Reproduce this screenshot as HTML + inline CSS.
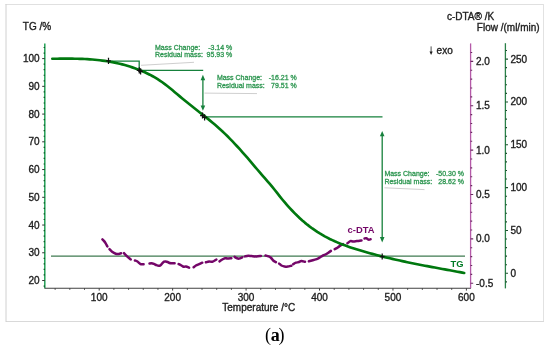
<!DOCTYPE html><html><head><meta charset="utf-8"><style>html,body{margin:0;padding:0;background:#fff;width:550px;height:348px;overflow:hidden}svg{display:block}text{font-family:"Liberation Sans",Arial,sans-serif}.t{stroke:#1e1e1e;stroke-width:0.35px}.ta{stroke:#2f9752;stroke-width:0.3px}</style></head><body>
<svg width="550" height="348" viewBox="0 0 550 348">
<path d="M5.5 4.5H543.5" stroke="#e0e0e0"/><path d="M543.5 4V321.5" stroke="#e2e2e2"/><path d="M6 321.5H544" stroke="#d9d9d9"/><path d="M6 4V322" stroke="#d0d0d0"/>
<line x1="44.8" y1="43.5" x2="44.8" y2="288.2" stroke="#22a055" stroke-width="1.5"/>
<path d="M42.2 58.6H44.8M42.2 86.34H44.8M42.2 114.08H44.8M42.2 141.82H44.8M42.2 169.56H44.8M42.2 197.3H44.8M42.2 225.04H44.8M42.2 252.78H44.8M42.2 280.52H44.8" stroke="#333" stroke-width="1" fill="none"/>
<path d="M43.6 47.5H45M43.6 53.05H45M43.6 64.15H45M43.6 69.7H45M43.6 75.24H45M43.6 80.79H45M43.6 91.89H45M43.6 97.44H45M43.6 102.98H45M43.6 108.53H45M43.6 119.63H45M43.6 125.18H45M43.6 130.72H45M43.6 136.27H45M43.6 147.37H45M43.6 152.92H45M43.6 158.46H45M43.6 164.01H45M43.6 175.11H45M43.6 180.66H45M43.6 186.2H45M43.6 191.75H45M43.6 202.85H45M43.6 208.4H45M43.6 213.94H45M43.6 219.49H45M43.6 230.59H45M43.6 236.14H45M43.6 241.68H45M43.6 247.23H45M43.6 258.33H45M43.6 263.88H45M43.6 269.42H45M43.6 274.97H45M43.6 286.07H45" stroke="#0d5a28" stroke-width="1.2" fill="none"/>
<g class="t" font-size="10" fill="#1e1e1e" text-anchor="end">
<text x="39.7" y="62.1">100</text>
<text x="39.7" y="89.84">90</text>
<text x="39.7" y="117.58">80</text>
<text x="39.7" y="145.32">70</text>
<text x="39.7" y="173.06">60</text>
<text x="39.7" y="200.8">50</text>
<text x="39.7" y="228.54">40</text>
<text x="39.7" y="256.28">30</text>
<text x="39.7" y="284.02">20</text>
</g>
<text x="22.8" y="30.2" class="t" font-size="10" fill="#1e1e1e">TG /%</text>
<line x1="44.5" y1="288.2" x2="471" y2="288.2" stroke="#404040" stroke-width="1.1"/>
<path d="M55.14 288.2V289.8M69.82 288.2V289.8M84.51 288.2V289.8M99.2 288.2V290.6M113.89 288.2V289.8M128.58 288.2V289.8M143.26 288.2V289.8M157.95 288.2V289.8M172.64 288.2V290.6M187.33 288.2V289.8M202.02 288.2V289.8M216.7 288.2V289.8M231.39 288.2V289.8M246.08 288.2V290.6M260.77 288.2V289.8M275.46 288.2V289.8M290.14 288.2V289.8M304.83 288.2V289.8M319.52 288.2V290.6M334.21 288.2V289.8M348.9 288.2V289.8M363.58 288.2V289.8M378.27 288.2V289.8M392.96 288.2V290.6M407.65 288.2V289.8M422.34 288.2V289.8M437.02 288.2V289.8M451.71 288.2V289.8M466.4 288.2V290.6" stroke="#404040" stroke-width="1" fill="none"/>
<g class="t" font-size="10" fill="#1e1e1e" text-anchor="middle">
<text x="99.2" y="300.8">100</text>
<text x="172.64" y="300.8">200</text>
<text x="246.08" y="300.8">300</text>
<text x="319.52" y="300.8">400</text>
<text x="392.96" y="300.8">500</text>
<text x="466.4" y="300.8">600</text>
</g>
<text x="222.3" y="310.6" class="t" font-size="10" fill="#1e1e1e">Temperature /°C</text>
<line x1="470.6" y1="43.4" x2="470.6" y2="288.2" stroke="#b45aa8" stroke-width="1.3"/>
<path d="M470.6 52.52H472.2M470.6 61.4H473.2M470.6 70.28H472.2M470.6 79.15H472.2M470.6 88.03H472.2M470.6 96.9H472.2M470.6 105.78H473.2M470.6 114.66H472.2M470.6 123.53H472.2M470.6 132.41H472.2M470.6 141.28H472.2M470.6 150.16H473.2M470.6 159.04H472.2M470.6 167.91H472.2M470.6 176.79H472.2M470.6 185.66H472.2M470.6 194.54H473.2M470.6 203.42H472.2M470.6 212.29H472.2M470.6 221.17H472.2M470.6 230.04H472.2M470.6 238.92H473.2M470.6 247.8H472.2M470.6 256.67H472.2M470.6 265.55H472.2M470.6 274.42H472.2M470.6 283.3H473.2" stroke="#6a2a62" stroke-width="1.1" fill="none"/>
<g class="t" font-size="10" fill="#1e1e1e">
<text x="476" y="64.9">2.0</text>
<text x="476" y="109.28">1.5</text>
<text x="476" y="153.66">1.0</text>
<text x="476" y="198.04">0.5</text>
<text x="476" y="242.42">0.0</text>
<text x="476" y="286.8">-0.5</text>
</g>
<line x1="505.4" y1="43.2" x2="505.4" y2="288.4" stroke="#2a8048" stroke-width="1.3"/>
<path d="M505.4 50.53H507M505.4 59.1H508M505.4 67.67H507M505.4 76.24H507M505.4 84.8H507M505.4 93.37H507M505.4 101.94H508M505.4 110.51H507M505.4 119.08H507M505.4 127.64H507M505.4 136.21H507M505.4 144.78H508M505.4 153.35H507M505.4 161.92H507M505.4 170.48H507M505.4 179.05H507M505.4 187.62H508M505.4 196.19H507M505.4 204.76H507M505.4 213.32H507M505.4 221.89H507M505.4 230.46H508M505.4 239.03H507M505.4 247.6H507M505.4 256.16H507M505.4 264.73H507M505.4 273.3H508M505.4 281.87H507" stroke="#1f5030" stroke-width="1.1" fill="none"/>
<g class="t" font-size="10" fill="#1e1e1e">
<text x="510.4" y="62.6">250</text>
<text x="510.4" y="105.44">200</text>
<text x="510.4" y="148.28">150</text>
<text x="510.4" y="191.12">100</text>
<text x="510.4" y="233.96">50</text>
<text x="510.4" y="276.8">0</text>
</g>
<text x="446.9" y="20.2" class="t" font-size="10" fill="#1e1e1e">c-DTA® /K</text>
<text x="476.8" y="30.9" class="t" font-size="10" fill="#1e1e1e">Flow /(ml/min)</text>
<text x="436.6" y="53.8" class="t" font-size="10" fill="#1e1e1e">exo</text>
<path d="M431.1 46.4V52.5" stroke="#1e1e1e" stroke-width="0.8"/><path d="M429.5 51.6L431.1 55L432.7 51.6Z" fill="#1e1e1e"/>
<line x1="51" y1="256.2" x2="465" y2="256.2" stroke="#3f7a50" stroke-width="1.3"/>
<path d="M108.2 61.1H139.2V70.3M139.2 70.3H203.2M206 116.9H382.5" stroke="#16813c" stroke-width="1.3" fill="none"/>
<path d="M141 65.3L194 62.3M204.5 93.1L257 93.6M384.5 187.8L424.5 189.6" stroke="#cfcfcf" stroke-width="1" fill="none"/>
<path d="M202.9 79.7V105.9" stroke="#16813c" stroke-width="1.3"/><path d="M202.9 74.8L200.6 80.2L205.2 80.2Z" fill="#16813c"/><path d="M202.9 110.8L200.6 105.4L205.2 105.4Z" fill="#16813c"/>
<path d="M382.2 135.8V237.6" stroke="#16813c" stroke-width="1.3"/><path d="M382.2 130.9L379.9 136.3L384.5 136.3Z" fill="#16813c"/><path d="M382.2 242.5L379.9 237.1L384.5 237.1Z" fill="#16813c"/>
<g stroke="#740668" stroke-width="2.5" fill="none" stroke-linecap="round" stroke-linejoin="round">
<path d="M102.4 239.4C102.65 239.65 103.4 240.32 103.9 240.9C104.4 241.48 104.82 241.97 105.4 242.9C105.98 243.83 107.07 245.9 107.4 246.5"/>
<path d="M109.5 249.1C109.93 249.53 111.07 250.93 112.1 251.7C113.13 252.47 114.58 253.32 115.7 253.7C116.82 254.08 117.9 254.08 118.8 254C119.7 253.92 120.72 253.33 121.1 253.2"/>
<path d="M124 253.2C124.52 253.72 125.98 255.27 127.1 256.3C128.22 257.33 130.1 258.88 130.7 259.4"/>
<path d="M134.9 260.5C135.32 260.67 136.47 260.9 137.4 261.5C138.33 262.1 139.47 263.63 140.5 264.1C141.53 264.57 143.08 264.27 143.6 264.3"/>
<path d="M149.5 263.6C149.82 263.55 150.67 263.25 151.4 263.3C152.13 263.35 153.05 263.58 153.9 263.9C154.75 264.22 155.7 264.88 156.5 265.2C157.3 265.52 158.02 265.8 158.7 265.8C159.38 265.8 160.02 265.62 160.6 265.2C161.18 264.78 161.62 263.88 162.2 263.3C162.78 262.72 163.52 262.02 164.1 261.7C164.68 261.38 165.12 261.35 165.7 261.4C166.28 261.45 166.97 261.73 167.6 262C168.23 262.27 168.8 262.8 169.5 263C170.2 263.2 170.95 263.17 171.8 263.2C172.65 263.23 174.13 263.2 174.6 263.2"/>
<path d="M178.6 264.1C179.07 264.33 180.57 265.05 181.4 265.5C182.23 265.95 182.85 266.65 183.6 266.8C184.35 266.95 184.98 266.25 185.9 266.4C186.82 266.55 188.57 267.48 189.1 267.7"/>
<path d="M193.6 267.3C193.98 267 194.98 266.03 195.9 265.5C196.82 264.97 198.03 264.57 199.1 264.1C200.17 263.63 201.77 262.93 202.3 262.7"/>
<path d="M205.9 262.3C206.43 262.15 208.03 261.48 209.1 261.4C210.17 261.32 211.08 262.12 212.3 261.8C213.52 261.48 215.72 259.88 216.4 259.5"/>
<path d="M219.5 261.4C219.97 261.08 221.38 260.03 222.3 259.5C223.22 258.97 224.17 258.37 225 258.2C225.83 258.03 226.23 258.5 227.3 258.5C228.37 258.5 230.72 258.25 231.4 258.2"/>
<path d="M234.5 256.8C234.88 257.03 236.03 257.9 236.8 258.2C237.57 258.5 238.18 258.75 239.1 258.6C240.02 258.45 241.77 257.52 242.3 257.3"/>
<path d="M245 256.4C245.53 256.28 247.07 255.75 248.2 255.7C249.33 255.65 250.43 255.98 251.8 256.1C253.17 256.22 254.88 256.43 256.4 256.4C257.92 256.37 260.15 255.98 260.9 255.9"/>
<path d="M265.5 255.5C266.02 255.65 267.7 256.03 268.6 256.4C269.5 256.77 270.13 257.02 270.9 257.7C271.67 258.38 272.37 259.77 273.2 260.5C274.03 261.23 275.45 261.83 275.9 262.1"/>
<path d="M279.1 263.6C279.48 263.92 280.5 265.03 281.4 265.5C282.3 265.97 283.45 266.22 284.5 266.4C285.55 266.58 286.55 266.72 287.7 266.6C288.85 266.48 290.78 265.85 291.4 265.7"/>
<path d="M293.2 264.1C293.65 263.87 295 263.03 295.9 262.7C296.8 262.37 297.68 262.4 298.6 262.1C299.52 261.8 300.33 260.95 301.4 260.9C302.47 260.85 304.4 261.65 305 261.8"/>
<path d="M308.9 261.3C309.68 261.08 312.1 260.43 313.6 260C315.1 259.57 316.75 259.2 317.9 258.7C319.05 258.2 319.63 257.57 320.5 257C321.37 256.43 322.23 255.73 323.1 255.3C323.97 254.87 324.83 254.83 325.7 254.4C326.57 253.97 327.43 253.28 328.3 252.7C329.17 252.12 330.47 251.2 330.9 250.9"/>
<path d="M334.7 249.2C335.22 248.92 336.72 248.22 337.8 247.5C338.88 246.78 340.35 245.47 341.2 244.9C342.05 244.33 342.62 244.23 342.9 244.1"/>
<path d="M347.4 243.3C347.88 242.93 349.33 241.4 350.3 241.1C351.27 240.8 352.12 241.5 353.2 241.5C354.28 241.5 355.42 241.28 356.8 241.1C358.18 240.92 360.72 240.52 361.5 240.4"/>
<path d="M364.5 238.5C364.8 238.45 365.63 238.02 366.3 238.2C366.97 238.38 367.78 239.42 368.5 239.6C369.22 239.78 370.25 239.35 370.6 239.3"/>
</g>
<path d="M52.3 58.78 54.8 58.74 57.3 58.70 59.8 58.67 62.3 58.64 64.8 58.63 67.3 58.63 69.8 58.64 72.3 58.66 74.8 58.70 77.3 58.75 79.8 58.82 82.3 58.92 84.8 59.03 87.3 59.17 89.8 59.34 92.3 59.52 94.8 59.74 97.3 59.99 99.8 60.27 102.3 60.57 104.8 60.92 107.3 61.30 109.8 61.71 112.3 62.17 114.8 62.66 117.3 63.20 119.8 63.78 122.3 64.40 124.8 65.07 127.3 65.78 129.8 66.55 132.3 67.37 134.8 68.24 137.3 69.16 139.8 70.14 142.3 71.17 144.8 72.27 147.3 73.44 149.8 74.69 152.3 76.02 154.8 77.44 157.3 78.95 159.8 80.56 162.3 82.28 164.8 84.12 167.3 86.04 169.8 88.04 172.3 90.09 174.8 92.18 177.3 94.28 179.8 96.38 182.3 98.45 184.8 100.50 187.3 102.53 189.8 104.54 192.3 106.54 194.8 108.52 197.3 110.49 199.8 112.45 202.3 114.41 204.8 116.38 207.3 118.36 209.8 120.38 212.3 122.43 214.8 124.53 217.3 126.69 219.8 128.93 222.3 131.23 224.8 133.61 227.3 136.06 229.8 138.58 232.3 141.15 234.8 143.79 237.3 146.48 239.8 149.22 242.3 152.01 244.8 154.85 247.3 157.72 249.8 160.64 252.3 163.58 254.8 166.55 257.3 169.51 259.8 172.45 262.3 175.35 264.8 178.19 267.3 181.02 269.8 183.89 272.3 186.87 274.8 189.98 277.3 193.17 279.8 196.35 282.3 199.46 284.8 202.45 287.3 205.32 289.8 208.08 292.3 210.75 294.8 213.32 297.3 215.80 299.8 218.17 302.3 220.45 304.8 222.61 307.3 224.66 309.8 226.61 312.3 228.46 314.8 230.21 317.3 231.88 319.8 233.45 322.3 234.94 324.8 236.36 327.3 237.70 329.8 238.97 332.3 240.17 334.8 241.32 337.3 242.40 339.8 243.44 342.3 244.42 344.8 245.36 347.3 246.26 349.8 247.13 352.3 247.96 354.8 248.77 357.3 249.55 359.8 250.31 362.3 251.06 364.8 251.79 367.3 252.51 369.8 253.21 372.3 253.89 374.8 254.57 377.3 255.22 379.8 255.87 382.3 256.50 384.8 257.11 387.3 257.72 389.8 258.31 392.3 258.90 394.8 259.47 397.3 260.03 399.8 260.58 402.3 261.13 404.8 261.66 407.3 262.19 409.8 262.71 412.3 263.22 414.8 263.72 417.3 264.22 419.8 264.71 422.3 265.20 424.8 265.68 427.3 266.16 429.8 266.63 432.3 267.10 434.8 267.56 437.3 268.03 439.8 268.49 442.3 268.95 444.8 269.40 447.3 269.86 449.8 270.32 452.3 270.78 454.8 271.23 457.3 271.69 459.8 272.15 462.3 272.61 464.2 272.97" stroke="#00780f" stroke-width="2.65" fill="none" stroke-linecap="round" stroke-linejoin="round"/>
<path d="M108.5 57.8V64M106.1 60.9H110.9M139.3 67.3V73.5M136.9 70.4H141.7M140.6 68.2V74.4M138.2 71.3H143M202.5 112.4V118.6M200.1 115.5H204.9M204.6 114.2V120.4M202.2 117.3H207M382.2 253.4V259.6M379.8 256.5H384.6" stroke="#111" stroke-width="1.25" fill="none"/>
<g class="ta" font-size="7" fill="#2f9752"><text x="155" y="49.5">Mass Change:</text><text x="155" y="57.2">Residual mass:</text><text x="232.3" y="49.5" text-anchor="end">-3.14 %</text><text x="232.3" y="57.2" text-anchor="end">95.93 %</text></g>
<g class="ta" font-size="7" fill="#2f9752"><text x="216.9" y="80.1">Mass Change:</text><text x="216.9" y="87.8">Residual mass:</text><text x="296.8" y="80.1" text-anchor="end">-16.21 %</text><text x="296.8" y="87.8" text-anchor="end">79.51 %</text></g>
<g class="ta" font-size="7" fill="#2f9752"><text x="384.4" y="176.4">Mass Change:</text><text x="384.4" y="184.1">Residual mass:</text><text x="464" y="176.4" text-anchor="end">-50.30 %</text><text x="464" y="184.1" text-anchor="end">28.62 %</text></g>
<text x="450.6" y="266.8" font-size="9.4" font-weight="bold" fill="#007a25">TG</text>
<text x="347.6" y="232.5" font-size="9.4" font-weight="bold" fill="#740668">c-DTA</text>
<text x="265" y="340.9" font-size="18" font-family="Liberation Serif, serif" fill="#000" style="font-family:'Liberation Serif',serif">(<tspan font-weight="bold" dx="-0.3">a</tspan><tspan dx="-1.3">)</tspan></text>
</svg></body></html>
